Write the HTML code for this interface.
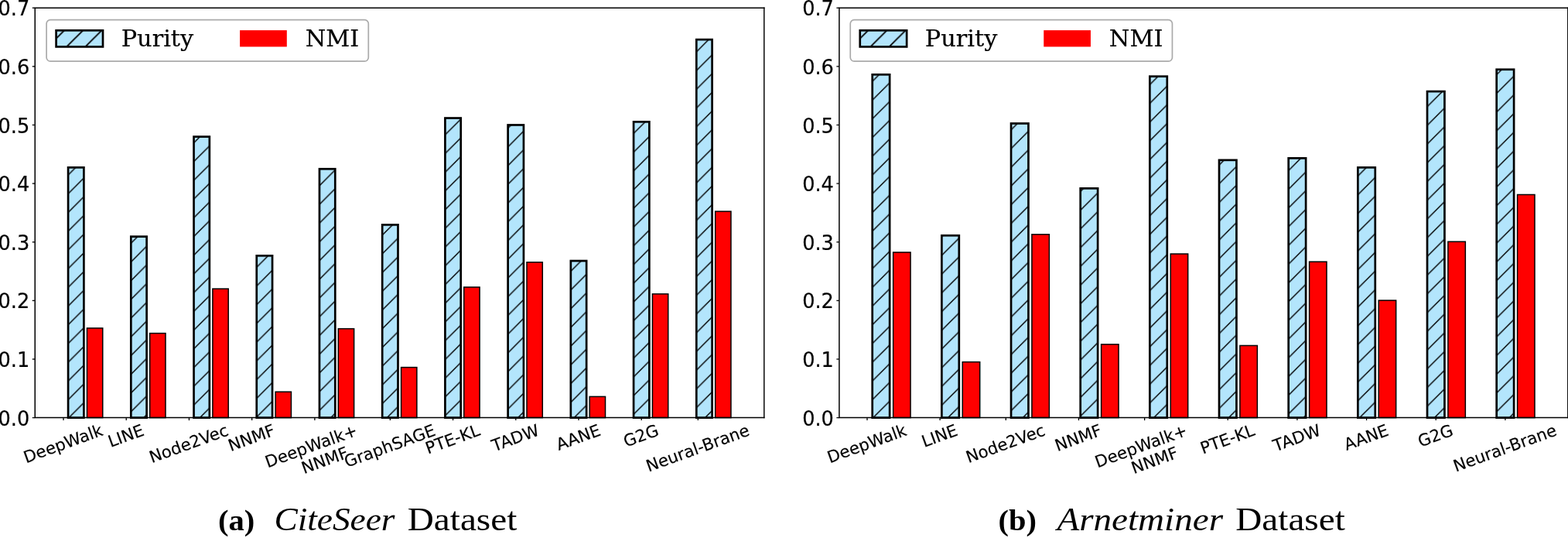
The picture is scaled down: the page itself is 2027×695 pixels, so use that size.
<!DOCTYPE html>
<html lang="en">
<head>
<meta charset="utf-8">
<title>Clustering results: Purity and NMI on CiteSeer and Arnetminer</title>
<style>
html,body{margin:0;padding:0;background:#fff;}
body{width:2027px;height:695px;}
svg{display:block;}
text{fill:#000;}
.yl{font-family:"DejaVu Sans","Liberation Sans",sans-serif;font-size:25.6px;stroke:#000;stroke-width:0.2;}
.xl{font-family:"DejaVu Sans","Liberation Sans",sans-serif;font-size:21.3px;stroke:#000;stroke-width:0.15;}
.lg{font-family:"DejaVu Serif","Liberation Serif",serif;font-size:30.35px;stroke:#000;stroke-width:0.2;}
</style>
</head>
<body>
<svg width="2027" height="695" viewBox="0 0 2027 695">
<defs>
<pattern id="hatchL" patternUnits="userSpaceOnUse" x="23.9" y="0" width="24.1900" height="24.19"><rect width="24.1900" height="24.19" fill="#b3e5fc"/><path d="M-24.190 24.19L24.190 -24.19M-24.190 48.38L48.380 -24.19M0 48.38L48.380 0" stroke="#000" stroke-width="1.45" fill="none"/></pattern>
<pattern id="hatchR" patternUnits="userSpaceOnUse" x="23.4" y="0" width="24.1900" height="24.19"><rect width="24.1900" height="24.19" fill="#b3e5fc"/><path d="M-24.190 24.19L24.190 -24.19M-24.190 48.38L48.380 -24.19M0 48.38L48.380 0" stroke="#000" stroke-width="1.45" fill="none"/></pattern>
<pattern id="hatchLgL" patternUnits="userSpaceOnUse" x="25.6" y="0" width="24.1900" height="24.19"><rect width="24.1900" height="24.19" fill="#b3e5fc"/><path d="M-24.190 24.19L24.190 -24.19M-24.190 48.38L48.380 -24.19M0 48.38L48.380 0" stroke="#000" stroke-width="1.85" fill="none"/></pattern>
<pattern id="hatchLgR" patternUnits="userSpaceOnUse" x="24.6" y="0" width="24.1900" height="24.19"><rect width="24.1900" height="24.19" fill="#b3e5fc"/><path d="M-24.190 24.19L24.190 -24.19M-24.190 48.38L48.380 -24.19M0 48.38L48.380 0" stroke="#000" stroke-width="1.85" fill="none"/></pattern>
</defs>
<rect width="2027" height="695" fill="#fff"/>
<g id="panel-a">
<g class="bars">
<rect x="88.09" y="216.36" width="20.3" height="323.24" fill="url(#hatchL)" stroke="#000" stroke-width="2.7"/>
<rect x="112.46" y="423.89" width="20.3" height="115.71" fill="#ff0000" stroke="#000" stroke-width="1.5"/>
<rect x="169.31" y="305.61" width="20.3" height="233.99" fill="url(#hatchL)" stroke="#000" stroke-width="2.7"/>
<rect x="193.68" y="430.54" width="20.3" height="109.06" fill="#ff0000" stroke="#000" stroke-width="1.5"/>
<rect x="250.53" y="176.58" width="20.3" height="363.02" fill="url(#hatchL)" stroke="#000" stroke-width="2.7"/>
<rect x="274.9" y="373.07" width="20.3" height="166.53" fill="#ff0000" stroke="#000" stroke-width="1.5"/>
<rect x="331.75" y="330.34" width="20.3" height="209.26" fill="url(#hatchL)" stroke="#000" stroke-width="2.7"/>
<rect x="356.12" y="506.17" width="20.3" height="33.43" fill="#ff0000" stroke="#000" stroke-width="1.5"/>
<rect x="412.97" y="218.25" width="20.3" height="321.35" fill="url(#hatchL)" stroke="#000" stroke-width="2.7"/>
<rect x="437.34" y="424.64" width="20.3" height="114.96" fill="#ff0000" stroke="#000" stroke-width="1.5"/>
<rect x="494.19" y="290.4" width="20.3" height="249.2" fill="url(#hatchL)" stroke="#000" stroke-width="2.7"/>
<rect x="518.56" y="474.56" width="20.3" height="65.04" fill="#ff0000" stroke="#000" stroke-width="1.5"/>
<rect x="575.41" y="152.53" width="20.3" height="387.07" fill="url(#hatchL)" stroke="#000" stroke-width="2.7"/>
<rect x="599.77" y="370.95" width="20.3" height="168.65" fill="#ff0000" stroke="#000" stroke-width="1.5"/>
<rect x="656.63" y="161.46" width="20.3" height="378.14" fill="url(#hatchL)" stroke="#000" stroke-width="2.7"/>
<rect x="680.99" y="338.73" width="20.3" height="200.87" fill="#ff0000" stroke="#000" stroke-width="1.5"/>
<rect x="737.85" y="336.99" width="20.3" height="202.61" fill="url(#hatchL)" stroke="#000" stroke-width="2.7"/>
<rect x="762.21" y="512.37" width="20.3" height="27.23" fill="#ff0000" stroke="#000" stroke-width="1.5"/>
<rect x="819.07" y="157.37" width="20.3" height="382.23" fill="url(#hatchL)" stroke="#000" stroke-width="2.7"/>
<rect x="843.43" y="379.72" width="20.3" height="159.88" fill="#ff0000" stroke="#000" stroke-width="1.5"/>
<rect x="900.29" y="51.12" width="20.3" height="488.48" fill="url(#hatchL)" stroke="#000" stroke-width="2.7"/>
<rect x="924.65" y="273.08" width="20.3" height="266.52" fill="#ff0000" stroke="#000" stroke-width="1.5"/>
</g>
<path d="M987.8 10.2H45.25V539.6H987.8" fill="none" stroke="#000" stroke-width="1.5" stroke-linecap="square"/>
<line x1="987.8" y1="10.2" x2="987.8" y2="539.6" stroke="#000" stroke-width="1.45" stroke-linecap="square"/>
<line x1="41.75" y1="539.6" x2="45.25" y2="539.6" stroke="#000" stroke-width="1.3"/>
<text transform="translate(38.25 549.75) scale(1 1.04)" text-anchor="end" class="yl">0.0</text>
<line x1="41.75" y1="463.97" x2="45.25" y2="463.97" stroke="#000" stroke-width="1.3"/>
<text transform="translate(38.25 474.12) scale(1 1.04)" text-anchor="end" class="yl">0.1</text>
<line x1="41.75" y1="388.34" x2="45.25" y2="388.34" stroke="#000" stroke-width="1.3"/>
<text transform="translate(38.25 398.49) scale(1 1.04)" text-anchor="end" class="yl">0.2</text>
<line x1="41.75" y1="312.71" x2="45.25" y2="312.71" stroke="#000" stroke-width="1.3"/>
<text transform="translate(38.25 322.86) scale(1 1.04)" text-anchor="end" class="yl">0.3</text>
<line x1="41.75" y1="237.09" x2="45.25" y2="237.09" stroke="#000" stroke-width="1.3"/>
<text transform="translate(38.25 247.24) scale(1 1.04)" text-anchor="end" class="yl">0.4</text>
<line x1="41.75" y1="161.46" x2="45.25" y2="161.46" stroke="#000" stroke-width="1.3"/>
<text transform="translate(38.25 171.61) scale(1 1.04)" text-anchor="end" class="yl">0.5</text>
<line x1="41.75" y1="85.83" x2="45.25" y2="85.83" stroke="#000" stroke-width="1.3"/>
<text transform="translate(38.25 95.98) scale(1 1.04)" text-anchor="end" class="yl">0.6</text>
<line x1="41.75" y1="10.2" x2="45.25" y2="10.2" stroke="#000" stroke-width="1.3"/>
<text transform="translate(38.25 20.35) scale(1 1.04)" text-anchor="end" class="yl">0.7</text>
<line x1="82" y1="539.6" x2="82" y2="543.1" stroke="#000" stroke-width="1.3"/>
<text transform="translate(33.68 598.45) rotate(-20)" class="xl">DeepWalk</text>
<line x1="163.22" y1="539.6" x2="163.22" y2="543.1" stroke="#000" stroke-width="1.3"/>
<text transform="translate(142.89 578.07) rotate(-20)" class="xl">LINE</text>
<line x1="244.44" y1="539.6" x2="244.44" y2="543.1" stroke="#000" stroke-width="1.3"/>
<text transform="translate(196.24 598.36) rotate(-20)" class="xl">Node2Vec</text>
<line x1="325.66" y1="539.6" x2="325.66" y2="543.1" stroke="#000" stroke-width="1.3"/>
<text transform="translate(298.3 583.19) rotate(-20)" class="xl">NNMF</text>
<line x1="406.88" y1="539.6" x2="406.88" y2="543.1" stroke="#000" stroke-width="1.3"/>
<text transform="translate(346.09 604.55) rotate(-20)" class="xl">DeepWalk+</text>
<text transform="translate(392.97 612.19) rotate(-20)" class="xl">NNMF</text>
<line x1="504.34" y1="539.6" x2="504.34" y2="543.1" stroke="#000" stroke-width="1.3"/>
<text transform="translate(448.37 604.02) rotate(-20)" class="xl">GraphSAGE</text>
<line x1="585.56" y1="539.6" x2="585.56" y2="543.1" stroke="#000" stroke-width="1.3"/>
<text transform="translate(553.35 586.72) rotate(-20)" class="xl">PTE-KL</text>
<line x1="666.78" y1="539.6" x2="666.78" y2="543.1" stroke="#000" stroke-width="1.3"/>
<text transform="translate(639.01 583.49) rotate(-20)" class="xl">TADW</text>
<line x1="748" y1="539.6" x2="748" y2="543.1" stroke="#000" stroke-width="1.3"/>
<text transform="translate(722.23 582.03) rotate(-20)" class="xl">AANE</text>
<line x1="829.22" y1="539.6" x2="829.22" y2="543.1" stroke="#000" stroke-width="1.3"/>
<text transform="translate(809.35 577.74) rotate(-20)" class="xl">G2G</text>
<line x1="902.32" y1="539.6" x2="902.32" y2="543.1" stroke="#000" stroke-width="1.3"/>
<text transform="translate(838.45 609.76) rotate(-20)" class="xl">Neural-Brane</text>
<rect x="60.1" y="25.6" width="416.2" height="53.6" rx="5" fill="#fff" fill-opacity="0.8" stroke="#aaaaaa" stroke-width="1.7"/>
<rect x="72.6" y="39.3" width="60.4" height="21.1" fill="url(#hatchLgL)" stroke="#000" stroke-width="2.7"/>
<text x="156.7" y="60.1" class="lg">Purity</text>
<rect x="310.1" y="39.1" width="60.7" height="21.3" fill="#ff0000"/>
<text x="394.7" y="60.1" class="lg">NMI</text>
</g>
<g id="panel-b">
<g class="bars">
<rect x="1127.71" y="96.34" width="22.42" height="443.26" fill="url(#hatchR)" stroke="#000" stroke-width="2.7"/>
<rect x="1154.61" y="325.95" width="22.42" height="213.65" fill="#ff0000" stroke="#000" stroke-width="1.5"/>
<rect x="1217.38" y="304.24" width="22.42" height="235.36" fill="url(#hatchR)" stroke="#000" stroke-width="2.7"/>
<rect x="1244.27" y="467.6" width="22.42" height="72" fill="#ff0000" stroke="#000" stroke-width="1.5"/>
<rect x="1307.04" y="159.49" width="22.42" height="380.11" fill="url(#hatchR)" stroke="#000" stroke-width="2.7"/>
<rect x="1333.94" y="302.81" width="22.42" height="236.79" fill="#ff0000" stroke="#000" stroke-width="1.5"/>
<rect x="1396.7" y="243.36" width="22.42" height="296.24" fill="url(#hatchR)" stroke="#000" stroke-width="2.7"/>
<rect x="1423.6" y="444.84" width="22.42" height="94.76" fill="#ff0000" stroke="#000" stroke-width="1.5"/>
<rect x="1486.36" y="98.69" width="22.42" height="440.91" fill="url(#hatchR)" stroke="#000" stroke-width="2.7"/>
<rect x="1513.26" y="327.99" width="22.42" height="211.61" fill="#ff0000" stroke="#000" stroke-width="1.5"/>
<rect x="1576.02" y="206.83" width="22.42" height="332.77" fill="url(#hatchR)" stroke="#000" stroke-width="2.7"/>
<rect x="1602.92" y="446.43" width="22.42" height="93.17" fill="#ff0000" stroke="#000" stroke-width="1.5"/>
<rect x="1665.69" y="204.34" width="22.42" height="335.26" fill="url(#hatchR)" stroke="#000" stroke-width="2.7"/>
<rect x="1692.58" y="338.13" width="22.42" height="201.47" fill="#ff0000" stroke="#000" stroke-width="1.5"/>
<rect x="1755.35" y="216.36" width="22.42" height="323.24" fill="url(#hatchR)" stroke="#000" stroke-width="2.7"/>
<rect x="1782.25" y="388.04" width="22.42" height="151.56" fill="#ff0000" stroke="#000" stroke-width="1.5"/>
<rect x="1845.01" y="118.12" width="22.42" height="421.48" fill="url(#hatchR)" stroke="#000" stroke-width="2.7"/>
<rect x="1871.91" y="312.18" width="22.42" height="227.42" fill="#ff0000" stroke="#000" stroke-width="1.5"/>
<rect x="1934.67" y="89.76" width="22.42" height="449.84" fill="url(#hatchR)" stroke="#000" stroke-width="2.7"/>
<rect x="1961.57" y="251.46" width="22.42" height="288.14" fill="#ff0000" stroke="#000" stroke-width="1.5"/>
</g>
<path d="M2026.8 10.2H1084.9V539.6H2026.8" fill="none" stroke="#000" stroke-width="1.5" stroke-linecap="square"/>
<line x1="2026.8" y1="10.2" x2="2026.8" y2="539.6" stroke="#000" stroke-width="1.45" stroke-linecap="square"/>
<line x1="1081.4" y1="539.6" x2="1084.9" y2="539.6" stroke="#000" stroke-width="1.3"/>
<text transform="translate(1077.9 549.75) scale(1 1.04)" text-anchor="end" class="yl">0.0</text>
<line x1="1081.4" y1="463.97" x2="1084.9" y2="463.97" stroke="#000" stroke-width="1.3"/>
<text transform="translate(1077.9 474.12) scale(1 1.04)" text-anchor="end" class="yl">0.1</text>
<line x1="1081.4" y1="388.34" x2="1084.9" y2="388.34" stroke="#000" stroke-width="1.3"/>
<text transform="translate(1077.9 398.49) scale(1 1.04)" text-anchor="end" class="yl">0.2</text>
<line x1="1081.4" y1="312.71" x2="1084.9" y2="312.71" stroke="#000" stroke-width="1.3"/>
<text transform="translate(1077.9 322.86) scale(1 1.04)" text-anchor="end" class="yl">0.3</text>
<line x1="1081.4" y1="237.09" x2="1084.9" y2="237.09" stroke="#000" stroke-width="1.3"/>
<text transform="translate(1077.9 247.24) scale(1 1.04)" text-anchor="end" class="yl">0.4</text>
<line x1="1081.4" y1="161.46" x2="1084.9" y2="161.46" stroke="#000" stroke-width="1.3"/>
<text transform="translate(1077.9 171.61) scale(1 1.04)" text-anchor="end" class="yl">0.5</text>
<line x1="1081.4" y1="85.83" x2="1084.9" y2="85.83" stroke="#000" stroke-width="1.3"/>
<text transform="translate(1077.9 95.98) scale(1 1.04)" text-anchor="end" class="yl">0.6</text>
<line x1="1081.4" y1="10.2" x2="1084.9" y2="10.2" stroke="#000" stroke-width="1.3"/>
<text transform="translate(1077.9 20.35) scale(1 1.04)" text-anchor="end" class="yl">0.7</text>
<line x1="1120.99" y1="539.6" x2="1120.99" y2="543.1" stroke="#000" stroke-width="1.3"/>
<text transform="translate(1072.67 598.45) rotate(-20)" class="xl">DeepWalk</text>
<line x1="1215.13" y1="539.6" x2="1215.13" y2="543.1" stroke="#000" stroke-width="1.3"/>
<text transform="translate(1194.81 578.07) rotate(-20)" class="xl">LINE</text>
<line x1="1300.31" y1="539.6" x2="1300.31" y2="543.1" stroke="#000" stroke-width="1.3"/>
<text transform="translate(1252.12 598.36) rotate(-20)" class="xl">Node2Vec</text>
<line x1="1394.46" y1="539.6" x2="1394.46" y2="543.1" stroke="#000" stroke-width="1.3"/>
<text transform="translate(1367.1 583.19) rotate(-20)" class="xl">NNMF</text>
<line x1="1479.64" y1="539.6" x2="1479.64" y2="543.1" stroke="#000" stroke-width="1.3"/>
<text transform="translate(1418.85 604.55) rotate(-20)" class="xl">DeepWalk+</text>
<text transform="translate(1465.72 612.19) rotate(-20)" class="xl">NNMF</text>
<line x1="1587.23" y1="539.6" x2="1587.23" y2="543.1" stroke="#000" stroke-width="1.3"/>
<text transform="translate(1555.02 586.72) rotate(-20)" class="xl">PTE-KL</text>
<line x1="1676.89" y1="539.6" x2="1676.89" y2="543.1" stroke="#000" stroke-width="1.3"/>
<text transform="translate(1649.12 583.49) rotate(-20)" class="xl">TADW</text>
<line x1="1766.56" y1="539.6" x2="1766.56" y2="543.1" stroke="#000" stroke-width="1.3"/>
<text transform="translate(1740.79 582.03) rotate(-20)" class="xl">AANE</text>
<line x1="1856.22" y1="539.6" x2="1856.22" y2="543.1" stroke="#000" stroke-width="1.3"/>
<text transform="translate(1836.35 577.74) rotate(-20)" class="xl">G2G</text>
<line x1="1945.88" y1="539.6" x2="1945.88" y2="543.1" stroke="#000" stroke-width="1.3"/>
<text transform="translate(1882.02 609.76) rotate(-20)" class="xl">Neural-Brane</text>
<rect x="1099.25" y="25.6" width="416.2" height="53.6" rx="5" fill="#fff" fill-opacity="0.8" stroke="#aaaaaa" stroke-width="1.7"/>
<rect x="1111.75" y="39.3" width="60.4" height="21.1" fill="url(#hatchLgR)" stroke="#000" stroke-width="2.7"/>
<text x="1195.85" y="60.1" class="lg">Purity</text>
<rect x="1349.25" y="39.1" width="60.7" height="21.3" fill="#ff0000"/>
<text x="1433.85" y="60.1" class="lg">NMI</text>
</g>
<g id="captions">
<text x="282.02" y="684.8" textLength="47.37" lengthAdjust="spacingAndGlyphs" font-family="'Liberation Serif', 'DejaVu Serif', serif" font-size="38.0" font-style="normal" font-weight="bold">(a)</text>
<text x="354.45" y="684.8" textLength="156.06" lengthAdjust="spacingAndGlyphs" font-family="'Liberation Serif', 'DejaVu Serif', serif" font-size="41.2" font-style="italic" font-weight="normal">CiteSeer</text>
<text x="526.74" y="684.8" textLength="141.54" lengthAdjust="spacingAndGlyphs" font-family="'Liberation Serif', 'DejaVu Serif', serif" font-size="41.2" font-style="normal" font-weight="normal">Dataset</text>
<text x="1290.53" y="684.8" textLength="49.43" lengthAdjust="spacingAndGlyphs" font-family="'Liberation Serif', 'DejaVu Serif', serif" font-size="38.0" font-style="normal" font-weight="bold">(b)</text>
<text x="1366.41" y="684.8" textLength="214.61" lengthAdjust="spacingAndGlyphs" font-family="'Liberation Serif', 'DejaVu Serif', serif" font-size="41.2" font-style="italic" font-weight="normal">Arnetminer</text>
<text x="1597.30" y="684.8" textLength="141.46" lengthAdjust="spacingAndGlyphs" font-family="'Liberation Serif', 'DejaVu Serif', serif" font-size="41.2" font-style="normal" font-weight="normal">Dataset</text>
</g>
</svg>
</body>
</html>
